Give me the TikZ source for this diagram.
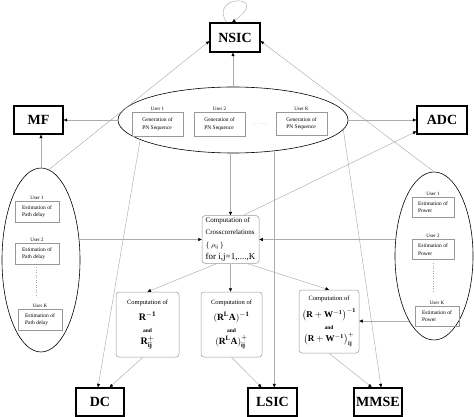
\documentclass[tikz,border=0pt]{standalone}
\usepackage{amsmath}
\usepackage{fontspec}
\setmainfont{Liberation Serif}
\usetikzlibrary{arrows.meta,shapes.geometric,calc}
\begin{document}
\begin{tikzpicture}[x=1pt,y=-1pt,
  bigbox/.style={draw,line width=1.3pt,font=\fontsize{14}{14}\selectfont\bfseries,inner sep=0pt},
  ell/.style={draw,ellipse,inner sep=0pt,line width=0.6pt},
  ubox/.style={draw=gray!80,line width=0.4pt,inner sep=2pt,align=left,font=\fontsize{5.5}{7.5}\selectfont},
  ulbl/.style={font=\fontsize{5}{6}\selectfont,inner sep=0.5pt,anchor=south,yshift=0.8pt},
  cbox/.style={draw=gray!80,line width=0.5pt,rounded corners=3pt,inner sep=1pt,align=center},
  conn/.style={draw=gray!65,line width=0.45pt,-{Triangle[length=3.5pt,width=3pt,color=black]}},
  dots/.style={draw=gray!70,dotted,line width=0.5pt}
]
\useasboundingbox (0,0) rectangle (474,417);

% main boxes
\node[bigbox,minimum width=50pt,minimum height=29pt] (NSIC) at (235,37.5) {NSIC};
\node[bigbox,minimum width=49pt,minimum height=28pt] (MF) at (38.5,120) {MF};
\node[bigbox,minimum width=50pt,minimum height=28pt] (ADC) at (442,120) {ADC};
\node[bigbox,minimum width=48pt,minimum height=28pt] (DC) at (100,402) {DC};
\node[bigbox,minimum width=49pt,minimum height=28pt] (LSIC) at (272.5,402) {LSIC};
\node[bigbox,minimum width=48pt,minimum height=28pt] (MMSE) at (378,402) {MMSE};

% ellipses
\node[ell,minimum width=230pt,minimum height=66pt] (topE) at (233,120) {};
\node[ell,minimum width=78pt,minimum height=184pt] (leftE) at (41,260) {};
\node[ell,minimum width=78pt,minimum height=168pt] (rightE) at (434,256) {};

% PN sequence boxes
\node[ubox,minimum width=51pt,minimum height=24pt] (pn1) at (157.5,124) {Generation of\\PN Sequence};
\node[ubox,minimum width=51pt,minimum height=24pt] (pn2) at (219.5,124) {Generation of\\PN Sequence};
\node[ubox,minimum width=51pt,minimum height=23pt] (pnK) at (301.5,123.5) {Generation of\\PN Sequence};
\node[ulbl] (pl1) at (pn1.north) {User 1};
\node[ulbl] (pl2) at (pn2.north) {User 2};
\node[ulbl] (plK) at (pnK.north) {User K};
\draw[dots] ($(pn2.east)!0.25!(pnK.west)$) -- ($(pn2.east)!0.7!(pnK.west)$);

% path delay boxes
\node[ubox,minimum width=44pt,minimum height=21pt] (lb1) at (37,211.5) {Estimation of\\Path delay};
\node[ubox,minimum width=44pt,minimum height=21pt] (lb2) at (37,253.5) {Estimation of\\Path delay};
\node[ubox,minimum width=44pt,minimum height=21pt] (lbK) at (40,319.5) {Estimation of\\Path delay};
\node[ulbl] (ll1) at (lb1.north) {User 1};
\node[ulbl] (ll2) at (lb2.north) {User 2};
\node[ulbl] (llK) at (lbK.north) {User K};
\draw[dots] (36,267) -- (36,296);

% power boxes
\node[ubox,minimum width=42pt,minimum height=20pt] (rb1) at (433,207) {Estimation of\\Power};
\node[ubox,minimum width=42pt,minimum height=20pt] (rb2) at (433,249.5) {Estimation of\\Power};
\node[ubox,minimum width=44pt,minimum height=20pt] (rbK) at (437,316) {Estimation of\\Power};
\node[ulbl] (rl1) at (rb1.north) {User 1};
\node[ulbl] (rl2) at (rb2.north) {User 2};
\node[ulbl] (rlK) at (rbK.north) {User K};
\draw[dots] (433,263) -- (433,293);

% crosscorrelation box
\node[cbox,align=left,minimum width=57pt,minimum height=47pt,inner sep=2pt] (cross) at (230.5,239.5)
  {{\fontsize{7}{7.5}\selectfont Computation of}\\
   {\fontsize{7}{7.5}\selectfont Crosscorrelations}\\[1pt]
   {\fontsize{7}{9}\selectfont $\{\,\rho_{\mathrm{ij}}\,\}$}\\
   {\fontsize{9}{10}\selectfont for i,j=1,....,K}};

% computation boxes
\node[cbox,minimum width=63pt,minimum height=65pt] (compL) at (147.5,324.5)
  {{\fontsize{6.5}{8}\selectfont Computation of}\\[4pt]
   {\fontsize{10}{11}\selectfont $\mathbf{R^{-1}}$}\\
   {\fontsize{5.5}{7}\selectfont\bfseries and}\\
   {\fontsize{10}{11}\selectfont $\mathbf{R}^{\mathbf{+}}_{\mathbf{ij}}$}};
\node[cbox,minimum width=61pt,minimum height=65pt] (compM) at (231.5,324.5)
  {{\fontsize{6.5}{8}\selectfont Computation of}\\[4pt]
   {\fontsize{9.5}{11}\selectfont $\mathbf{(R^{L}A)^{-1}}$}\\
   {\fontsize{5.5}{7}\selectfont\bfseries and}\\
   {\fontsize{9.5}{11}\selectfont $\mathbf{(R^{L}A)}^{\mathbf{+}}_{\mathbf{ij}}$}};
\node[cbox,minimum width=60pt,minimum height=63pt] (compR) at (329,321.5)
  {{\fontsize{6.5}{8}\selectfont Computation of}\\[5pt]
   {\fontsize{9}{11}\selectfont $\bigl(\mathbf{R+W^{-1}}\bigr)^{\mathbf{-1}}$}\\
   {\fontsize{5.5}{7}\selectfont\bfseries and}\\
   {\fontsize{9}{11}\selectfont $\bigl(\mathbf{R+W^{-1}}\bigr)^{\mathbf{+}}_{\mathbf{ij}}$}};

% NSIC self loop
\draw[conn] (NSIC.119) .. controls (208,-6) and (272,-6) .. (NSIC.101);

% connectors from top ellipse
\draw[conn] (topE.north) -- (topE.north |- NSIC.south);
\draw[conn] (topE.west) -- (MF.east);
\draw[conn] (topE.east) -- (ADC.west);
\draw[conn] (cross.north |- topE.south) -- (cross.north);
\draw[conn] (topE.192) -- (DC.98);
\draw[conn] (topE.-37) -- (topE.-37 |- LSIC.north);
\draw[conn] (topE.-5) -- (MMSE.78);

% connectors from left ellipse
\draw[conn] (leftE.north) -- (leftE.north |- MF.south);
\draw[conn] (leftE.85) -- (NSIC.188);
\draw[conn] (leftE.east |- cross.west) -- (cross.west);

% connectors from right ellipse
\draw[conn] (rightE.north) -- (NSIC.-8);
\draw[conn] (rightE.west |- cross.east) -- (cross.east);
\draw[conn] (rightE.249) -- (rightE.249 -| compR.east);

% connectors from crosscorrelation box
\draw[conn] (cross.62) -- (ADC.204);
\draw[conn] (cross.240) -- (compL.north);
\draw[conn] (cross.south) -- (cross.south |- compM.north);
\draw[conn] (cross.305) -- (compR.north);

% computation boxes to receivers
\draw[conn] (compL.262) -- (DC.57);
\draw[conn] (compM.south) -- (LSIC.127);
\draw[conn] (compR.south) -- (MMSE.113);
\end{tikzpicture}
\end{document}
